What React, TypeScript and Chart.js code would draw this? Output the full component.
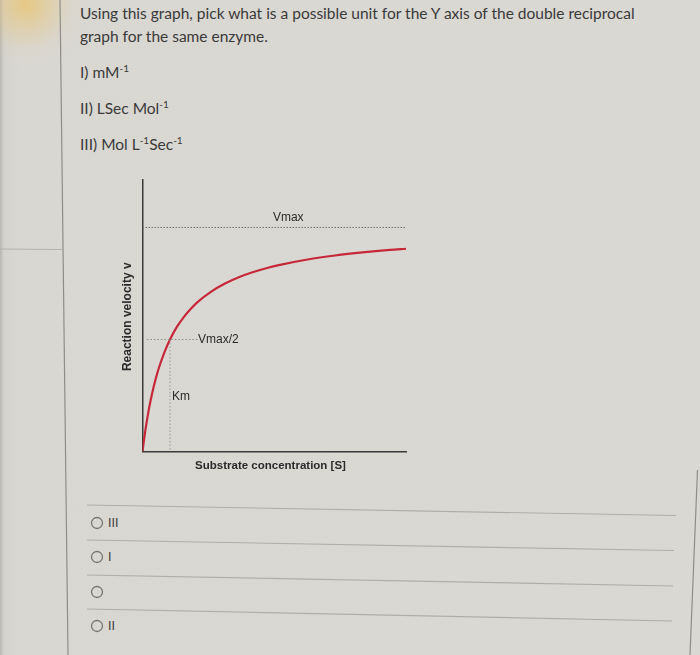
import React, { useEffect, useRef } from "react";
import { Chart, registerables } from "chart.js";

Chart.register(...registerables);

// ---- data (Vmax = 1, Km = 1) ----
const substrate = [0, 0.02, 0.05, 0.1, 0.2, 0.3, 0.4, 0.5, 0.6, 0.8, 1, 1.25, 1.5, 1.75, 2, 2.5, 3, 3.5, 4, 4.5, 5, 6, 7, 8, 9, 9.58];
const velocity = [0, 0.02, 0.048, 0.091, 0.167, 0.231, 0.286, 0.333, 0.375, 0.444, 0.5, 0.556, 0.6, 0.636, 0.667, 0.714, 0.75, 0.778, 0.8, 0.818, 0.833, 0.857, 0.875, 0.889, 0.9, 0.905];
const vmaxValue = 1;
const kmValue = 1;
const xMax = 9.58;
const yMax = 1.212;
const halfLineX = [0.16, 2.0];
const yTitle = "Reaction velocity v";
const xTitle = "Substrate concentration [S]";
const vmaxLabel = "Vmax";
const halfLabel = "Vmax/2";
const kmLabel = "Km";

const questionLine1 = "Using this graph, pick what is a possible unit for the Y axis of the double reciprocal";
const questionLine2 = "graph for the same enzyme.";
const answerChoices = ["III", "I", "", "II"];

const textColor = "#2b2b2b";

const labelPlugin = {
  id: "mmLabels",
  afterDatasetsDraw(chart: any) {
    const { ctx, chartArea, scales } = chart;
    const x = scales.x;
    const y = scales.y;
    ctx.save();
    ctx.fillStyle = textColor;
    ctx.textBaseline = "middle";
    ctx.font = "12px 'Liberation Sans', Arial, sans-serif";
    ctx.textAlign = "center";
    ctx.fillText(vmaxLabel, x.getPixelForValue(5.3), y.getPixelForValue(vmaxValue * 1.045));
    ctx.textAlign = "left";
    ctx.fillText(halfLabel, x.getPixelForValue(2.02), y.getPixelForValue(vmaxValue / 2) + 0.5);
    ctx.fillText(kmLabel, x.getPixelForValue(kmValue * 1.07), y.getPixelForValue(0.244));
    ctx.textAlign = "center";
    ctx.font = "bold 11.5px 'Liberation Sans', Arial, sans-serif";
    ctx.fillText(xTitle, chartArea.left + 128, chartArea.bottom + 14);
    ctx.font = "bold 12px 'Liberation Sans', Arial, sans-serif";
    ctx.translate(chartArea.left - 15, (chartArea.top + chartArea.bottom) / 2 + 1);
    ctx.rotate(-Math.PI / 2);
    ctx.fillText(yTitle, 0, 0);
    ctx.restore();
  },
};

function MMChart() {
  const ref = useRef<HTMLCanvasElement | null>(null);
  useEffect(() => {
    if (!ref.current) return;
    const curve = substrate.map((s, i) => ({ x: s, y: velocity[i] }));
    const chart = new Chart(ref.current, {
      type: "line",
      data: {
        datasets: [
          {
            data: [{ x: 0, y: vmaxValue }, { x: xMax, y: vmaxValue }],
            borderColor: "#6f6f6f",
            borderWidth: 1,
            borderDash: [1.5, 1.5],
            pointRadius: 0,
          },
          {
            data: [{ x: halfLineX[0], y: vmaxValue / 2 }, { x: halfLineX[1], y: vmaxValue / 2 }],
            borderColor: "#8a8a8a",
            borderWidth: 1,
            borderDash: [1.5, 2],
            pointRadius: 0,
          },
          {
            data: [{ x: kmValue, y: vmaxValue / 2 }, { x: kmValue, y: 0 }],
            borderColor: "#9a9a9a",
            borderWidth: 1,
            borderDash: [1.5, 2],
            pointRadius: 0,
          },
          {
            data: curve,
            borderColor: "#c6283a",
            borderWidth: 2.2,
            pointRadius: 0,
            cubicInterpolationMode: "monotone",
          },
        ],
      },
      options: {
        animation: false,
        responsive: false,
        maintainAspectRatio: false,
        layout: { padding: { left: 52.5, top: 15, right: 24, bottom: 33.5 } },
        plugins: { legend: { display: false }, tooltip: { enabled: false } },
        scales: {
          x: {
            type: "linear",
            min: 0,
            max: xMax,
            grid: { display: false, drawTicks: false },
            ticks: { display: false },
            border: { display: true, color: "#3a3a3a", width: 1.5 },
          },
          y: {
            type: "linear",
            min: 0,
            max: yMax,
            grid: { display: false, drawTicks: false },
            ticks: { display: false },
            border: { display: true, color: "#3a3a3a", width: 1.5 },
          },
        },
      },
      plugins: [labelPlugin],
    } as any);
    return () => chart.destroy();
  }, []);
  return (
    <canvas
      ref={ref}
      width={340}
      height={320}
      style={{ position: "absolute", left: 90, top: 165, width: 340, height: 320 }}
    />
  );
}

const qFont: React.CSSProperties = {
  position: "absolute",
  left: 80,
  fontFamily: "Lato, 'Open Sans', sans-serif",
  fontSize: 15.5,
  color: "#3a3a3a",
  whiteSpace: "nowrap",
  lineHeight: "20px",
};

const sup: React.CSSProperties = { fontSize: 10, position: "relative", top: -6 };

export default function App() {
  const lineY = [[87, 505, 676, 515.5], [87, 540, 674, 550.5], [87, 575, 673, 586], [87, 609, 672, 621]];
  const circleY = [523, 557, 592, 626];
  return (
    <div
      style={{
        position: "fixed",
        left: 0,
        top: 0,
        width: 700,
        height: 655,
        overflow: "hidden",
        background:
          "radial-gradient(circle at 26px 4px, rgba(238,190,80,0.6) 0px, rgba(232,196,110,0.35) 25px, rgba(222,205,160,0.12) 45px, rgba(217,215,210,0) 62px), linear-gradient(90deg, #b9b7b2 0px, #d5d3ce 4px, #d9d7d2 20px, #dad8d3 100%)",
      }}
    >
      <svg width={700} height={655} style={{ position: "absolute", left: 0, top: 0 }}>
        <line x1={60} y1={0} x2={68} y2={655} stroke="#8e8d8a" strokeWidth={1.2} />
        <line x1={0} y1={249} x2={62} y2={249.5} stroke="#b5b3ae" strokeWidth={1} />
        <line x1={697.5} y1={470} x2={690} y2={655} stroke="#8e8d8a" strokeWidth={1.2} />
        {lineY.map((l, i) => (
          <line key={i} x1={l[0]} y1={l[1]} x2={l[2]} y2={l[3]} stroke="#b0aeaa" strokeWidth={1.2} />
        ))}
        {circleY.map((cy, i) => (
          <circle key={i} cx={97} cy={cy} r={5.5} fill="none" stroke="#767676" strokeWidth={1.3} />
        ))}
      </svg>
      <div style={{ ...qFont, top: 3 }}>{questionLine1}</div>
      <div style={{ ...qFont, top: 26 }}>{questionLine2}</div>
      <div style={{ ...qFont, top: 62 }}>
        I) mM<span style={sup}>-1</span>
      </div>
      <div style={{ ...qFont, top: 98 }}>
        II) LSec Mol<span style={sup}>-1</span>
      </div>
      <div style={{ ...qFont, top: 134 }}>
        III) Mol L<span style={sup}>-1</span>Sec<span style={sup}>-1</span>
      </div>
      {answerChoices.map((c, i) => (
        <div
          key={i}
          style={{
            position: "absolute",
            left: 108,
            top: circleY[i] - 8,
            fontFamily: "'Liberation Sans', Arial, sans-serif",
            fontSize: 12.5,
            lineHeight: "16px",
            color: "#3a3a3a",
          }}
        >
          {c}
        </div>
      ))}
      <MMChart />
    </div>
  );
}
